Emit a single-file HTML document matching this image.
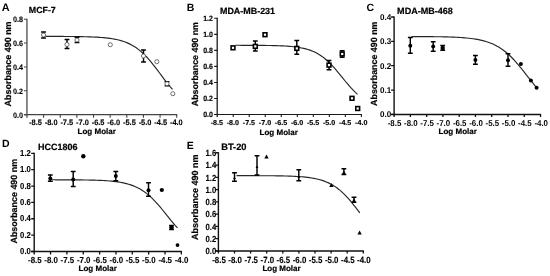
<!DOCTYPE html>
<html lang="en"><head><meta charset="utf-8"><title>Dose response curves</title>
<style>
html,body{margin:0;padding:0;background:#fff;}
body{width:550px;height:276px;overflow:hidden;font-family:"Liberation Sans",Arial,sans-serif;}
svg text{fill:#000;stroke:#000;}
svg text:not(.t){stroke-width:0.2px;}
svg text.L{stroke-width:0;}
</style></head><body>
<svg width="550" height="276" viewBox="0 0 550 276" style="display:block" text-rendering="geometricPrecision">
<rect width="550" height="276" fill="#fff"/>
<g id="panelA">
<path d="M26.95,18.65 V117.75" stroke="#444" stroke-width="1.25" fill="none"/>
<path d="M23.95,114.65 H177.26" stroke="#444" stroke-width="1.3" fill="none"/>
<path d="M23.95,114.65 H26.95 M23.95,90.79 H26.95 M23.95,66.93 H26.95 M23.95,43.06 H26.95 M23.95,19.20 H26.95 M43.59,114.65 V117.75 M60.23,114.65 V117.75 M76.87,114.65 V117.75 M93.51,114.65 V117.75 M110.15,114.65 V117.75 M126.79,114.65 V117.75 M143.43,114.65 V117.75 M160.07,114.65 V117.75 M176.71,114.65 V117.75 " stroke="#444" stroke-width="1.1" fill="none"/>
<text transform="translate(23.10,117.56) scale(1,1.09)" font-size="7.2" text-anchor="end" class="t" stroke-width="0.1" font-family="Liberation Sans, Arial, Helvetica, sans-serif" font-weight="bold">0.0</text>
<text transform="translate(23.10,93.70) scale(1,1.09)" font-size="7.2" text-anchor="end" class="t" stroke-width="0.1" font-family="Liberation Sans, Arial, Helvetica, sans-serif" font-weight="bold">0.2</text>
<text transform="translate(23.10,69.83) scale(1,1.09)" font-size="7.2" text-anchor="end" class="t" stroke-width="0.1" font-family="Liberation Sans, Arial, Helvetica, sans-serif" font-weight="bold">0.4</text>
<text transform="translate(23.10,45.97) scale(1,1.09)" font-size="7.2" text-anchor="end" class="t" stroke-width="0.1" font-family="Liberation Sans, Arial, Helvetica, sans-serif" font-weight="bold">0.6</text>
<text transform="translate(23.10,22.11) scale(1,1.09)" font-size="7.2" text-anchor="end" class="t" stroke-width="0.1" font-family="Liberation Sans, Arial, Helvetica, sans-serif" font-weight="bold">0.8</text>
<text transform="translate(35.50,125.20) scale(1,1.06)" font-size="7.45" text-anchor="middle" class="t" stroke-width="0.1" font-family="Liberation Sans, Arial, Helvetica, sans-serif" font-weight="bold">-8.5</text>
<text transform="translate(51.15,125.20) scale(1,1.06)" font-size="7.45" text-anchor="middle" class="t" stroke-width="0.1" font-family="Liberation Sans, Arial, Helvetica, sans-serif" font-weight="bold">-8.0</text>
<text transform="translate(66.80,125.20) scale(1,1.06)" font-size="7.45" text-anchor="middle" class="t" stroke-width="0.1" font-family="Liberation Sans, Arial, Helvetica, sans-serif" font-weight="bold">-7.5</text>
<text transform="translate(82.45,125.20) scale(1,1.06)" font-size="7.45" text-anchor="middle" class="t" stroke-width="0.1" font-family="Liberation Sans, Arial, Helvetica, sans-serif" font-weight="bold">-7.0</text>
<text transform="translate(98.10,125.20) scale(1,1.06)" font-size="7.45" text-anchor="middle" class="t" stroke-width="0.1" font-family="Liberation Sans, Arial, Helvetica, sans-serif" font-weight="bold">-6.5</text>
<text transform="translate(113.75,125.20) scale(1,1.06)" font-size="7.45" text-anchor="middle" class="t" stroke-width="0.1" font-family="Liberation Sans, Arial, Helvetica, sans-serif" font-weight="bold">-6.0</text>
<text transform="translate(129.40,125.20) scale(1,1.06)" font-size="7.45" text-anchor="middle" class="t" stroke-width="0.1" font-family="Liberation Sans, Arial, Helvetica, sans-serif" font-weight="bold">-5.5</text>
<text transform="translate(145.05,125.20) scale(1,1.06)" font-size="7.45" text-anchor="middle" class="t" stroke-width="0.1" font-family="Liberation Sans, Arial, Helvetica, sans-serif" font-weight="bold">-5.0</text>
<text transform="translate(160.70,125.20) scale(1,1.06)" font-size="7.45" text-anchor="middle" class="t" stroke-width="0.1" font-family="Liberation Sans, Arial, Helvetica, sans-serif" font-weight="bold">-4.5</text>
<text transform="translate(176.35,125.20) scale(1,1.06)" font-size="7.45" text-anchor="middle" class="t" stroke-width="0.1" font-family="Liberation Sans, Arial, Helvetica, sans-serif" font-weight="bold">-4.0</text>
<text x="77.60" y="133.80" font-size="8.0" font-family="Liberation Sans, Arial, Helvetica, sans-serif" font-weight="bold">Log Molar</text>
<text transform="translate(11.10,106.40) rotate(-90)" font-size="8.95" font-family="Liberation Sans, Arial, Helvetica, sans-serif" font-weight="bold">Absorbance 490 nm</text>
<text x="28.80" y="13.25" font-size="8.84" font-family="Liberation Sans, Arial, Helvetica, sans-serif" font-weight="bold">MCF-7</text>
<text x="1.80" y="11.10" font-size="10.9" class="L" font-family="Liberation Sans, Arial, Helvetica, sans-serif" font-weight="bold">A</text>
<path d="M45.50,36.39 L47.65,36.39 L49.81,36.40 L51.96,36.40 L54.11,36.41 L56.26,36.41 L58.42,36.42 L60.57,36.43 L62.72,36.44 L64.87,36.45 L67.03,36.47 L69.18,36.48 L71.33,36.50 L73.48,36.52 L75.64,36.55 L77.79,36.58 L79.94,36.61 L82.09,36.65 L84.25,36.70 L86.40,36.76 L88.55,36.82 L90.70,36.89 L92.86,36.98 L95.01,37.08 L97.16,37.19 L99.31,37.33 L101.47,37.49 L103.62,37.67 L105.77,37.88 L107.92,38.12 L110.08,38.41 L112.23,38.73 L114.38,39.11 L116.53,39.55 L118.69,40.05 L120.84,40.62 L122.99,41.28 L125.14,42.04 L127.30,42.90 L129.45,43.87 L131.60,44.97 L133.75,46.21 L135.91,47.60 L138.06,49.15 L140.21,50.86 L142.36,52.74 L144.52,54.79 L146.67,57.01 L148.82,59.39 L150.97,61.91 L153.13,64.56 L155.28,67.32 L157.43,70.15 L159.58,73.03 L161.74,75.92 L163.89,78.78 L166.04,81.59 L168.19,84.32 L170.35,86.94 L172.50,89.42" stroke="#262626" stroke-width="1.15" fill="none"/>
<path d="M43.50,32.00 V38.00" stroke="#000" stroke-width="1.45" fill="none"/>
<path d="M41.10,32.00 H45.90 M41.10,38.00 H45.90" stroke="#000" stroke-width="1.5" fill="none"/>
<circle cx="43.50" cy="35.00" r="2.05" fill="#fff" stroke="#555" stroke-width="0.85"/>
<path d="M67.00,39.50 V48.50" stroke="#000" stroke-width="1.45" fill="none"/>
<path d="M64.60,39.50 H69.40 M64.60,48.50 H69.40" stroke="#000" stroke-width="1.5" fill="none"/>
<circle cx="67.00" cy="44.50" r="2.05" fill="#fff" stroke="#555" stroke-width="0.85"/>
<path d="M77.00,37.30 V42.50" stroke="#000" stroke-width="1.45" fill="none"/>
<path d="M74.60,37.30 H79.40 M74.60,42.50 H79.40" stroke="#000" stroke-width="1.5" fill="none"/>
<circle cx="77.00" cy="40.00" r="2.05" fill="#fff" stroke="#555" stroke-width="0.85"/>
<circle cx="110.30" cy="44.70" r="2.05" fill="#fff" stroke="#555" stroke-width="0.85"/>
<path d="M143.50,50.00 V62.00" stroke="#000" stroke-width="1.45" fill="none"/>
<path d="M141.10,50.00 H145.90 M141.10,62.00 H145.90" stroke="#000" stroke-width="1.5" fill="none"/>
<circle cx="143.50" cy="56.00" r="2.05" fill="#fff" stroke="#555" stroke-width="0.85"/>
<circle cx="156.80" cy="61.70" r="2.05" fill="#fff" stroke="#555" stroke-width="0.85"/>
<path d="M167.00,81.70 V85.70" stroke="#000" stroke-width="1.45" fill="none"/>
<path d="M164.60,81.70 H169.40 M164.60,85.70 H169.40" stroke="#000" stroke-width="1.5" fill="none"/>
<circle cx="167.00" cy="83.70" r="2.05" fill="#fff" stroke="#555" stroke-width="0.85"/>
<circle cx="172.80" cy="93.70" r="2.05" fill="#fff" stroke="#555" stroke-width="0.85"/>
</g>
<g id="panelB">
<path d="M217.20,17.75 V117.00" stroke="#1a1a1a" stroke-width="1.3" fill="none"/>
<path d="M214.20,114.50 H361.93" stroke="#1a1a1a" stroke-width="1.1" fill="none"/>
<path d="M214.20,114.50 H217.20 M214.20,98.47 H217.20 M214.20,82.43 H217.20 M214.20,66.40 H217.20 M214.20,50.37 H217.20 M214.20,34.33 H217.20 M214.20,18.30 H217.20 M233.22,114.50 V117.00 M249.24,114.50 V117.00 M265.26,114.50 V117.00 M281.28,114.50 V117.00 M297.30,114.50 V117.00 M313.32,114.50 V117.00 M329.34,114.50 V117.00 M345.36,114.50 V117.00 M361.38,114.50 V117.00 " stroke="#1a1a1a" stroke-width="1.1" fill="none"/>
<text transform="translate(212.90,116.93) scale(1,1.09)" font-size="7.0" text-anchor="end" class="t" stroke-width="0.15" font-family="Liberation Sans, Arial, Helvetica, sans-serif" font-weight="bold">0.0</text>
<text transform="translate(212.90,100.90) scale(1,1.09)" font-size="7.0" text-anchor="end" class="t" stroke-width="0.15" font-family="Liberation Sans, Arial, Helvetica, sans-serif" font-weight="bold">0.2</text>
<text transform="translate(212.90,84.86) scale(1,1.09)" font-size="7.0" text-anchor="end" class="t" stroke-width="0.15" font-family="Liberation Sans, Arial, Helvetica, sans-serif" font-weight="bold">0.4</text>
<text transform="translate(212.90,68.83) scale(1,1.09)" font-size="7.0" text-anchor="end" class="t" stroke-width="0.15" font-family="Liberation Sans, Arial, Helvetica, sans-serif" font-weight="bold">0.6</text>
<text transform="translate(212.90,52.80) scale(1,1.09)" font-size="7.0" text-anchor="end" class="t" stroke-width="0.15" font-family="Liberation Sans, Arial, Helvetica, sans-serif" font-weight="bold">0.8</text>
<text transform="translate(212.90,36.76) scale(1,1.09)" font-size="7.0" text-anchor="end" class="t" stroke-width="0.15" font-family="Liberation Sans, Arial, Helvetica, sans-serif" font-weight="bold">1.0</text>
<text transform="translate(212.90,20.73) scale(1,1.09)" font-size="7.0" text-anchor="end" class="t" stroke-width="0.15" font-family="Liberation Sans, Arial, Helvetica, sans-serif" font-weight="bold">1.2</text>
<text transform="translate(216.85,125.45) scale(1,1.0)" font-size="7.15" text-anchor="middle" class="t" stroke-width="0.15" font-family="Liberation Sans, Arial, Helvetica, sans-serif" font-weight="bold">-8.5</text>
<text transform="translate(232.89,125.45) scale(1,1.0)" font-size="7.15" text-anchor="middle" class="t" stroke-width="0.15" font-family="Liberation Sans, Arial, Helvetica, sans-serif" font-weight="bold">-8.0</text>
<text transform="translate(248.93,125.45) scale(1,1.0)" font-size="7.15" text-anchor="middle" class="t" stroke-width="0.15" font-family="Liberation Sans, Arial, Helvetica, sans-serif" font-weight="bold">-7.5</text>
<text transform="translate(264.97,125.45) scale(1,1.0)" font-size="7.15" text-anchor="middle" class="t" stroke-width="0.15" font-family="Liberation Sans, Arial, Helvetica, sans-serif" font-weight="bold">-7.0</text>
<text transform="translate(281.01,125.45) scale(1,1.0)" font-size="7.15" text-anchor="middle" class="t" stroke-width="0.15" font-family="Liberation Sans, Arial, Helvetica, sans-serif" font-weight="bold">-6.5</text>
<text transform="translate(297.05,125.45) scale(1,1.0)" font-size="7.15" text-anchor="middle" class="t" stroke-width="0.15" font-family="Liberation Sans, Arial, Helvetica, sans-serif" font-weight="bold">-6.0</text>
<text transform="translate(313.09,125.45) scale(1,1.0)" font-size="7.15" text-anchor="middle" class="t" stroke-width="0.15" font-family="Liberation Sans, Arial, Helvetica, sans-serif" font-weight="bold">-5.5</text>
<text transform="translate(329.13,125.45) scale(1,1.0)" font-size="7.15" text-anchor="middle" class="t" stroke-width="0.15" font-family="Liberation Sans, Arial, Helvetica, sans-serif" font-weight="bold">-5.0</text>
<text transform="translate(345.17,125.45) scale(1,1.0)" font-size="7.15" text-anchor="middle" class="t" stroke-width="0.15" font-family="Liberation Sans, Arial, Helvetica, sans-serif" font-weight="bold">-4.5</text>
<text transform="translate(361.21,125.45) scale(1,1.0)" font-size="7.15" text-anchor="middle" class="t" stroke-width="0.15" font-family="Liberation Sans, Arial, Helvetica, sans-serif" font-weight="bold">-4.0</text>
<text x="259.60" y="134.80" font-size="8.0" font-family="Liberation Sans, Arial, Helvetica, sans-serif" font-weight="bold">Log Molar</text>
<text transform="translate(198.20,106.20) rotate(-90)" font-size="8.87" font-family="Liberation Sans, Arial, Helvetica, sans-serif" font-weight="bold">Absorbance 490 nm</text>
<text x="219.95" y="13.75" font-size="8.95" font-family="Liberation Sans, Arial, Helvetica, sans-serif" font-weight="bold">MDA-MB-231</text>
<text x="186.65" y="10.70" font-size="10.5" class="L" font-family="Liberation Sans, Arial, Helvetica, sans-serif" font-weight="bold">B</text>
<path d="M235.50,45.29 L237.57,45.29 L239.64,45.30 L241.70,45.30 L243.77,45.31 L245.84,45.31 L247.91,45.32 L249.97,45.32 L252.04,45.33 L254.11,45.34 L256.18,45.36 L258.25,45.37 L260.31,45.39 L262.38,45.41 L264.45,45.43 L266.52,45.45 L268.58,45.49 L270.65,45.52 L272.72,45.57 L274.79,45.62 L276.86,45.68 L278.92,45.75 L280.99,45.83 L283.06,45.92 L285.13,46.03 L287.19,46.16 L289.26,46.32 L291.33,46.49 L293.40,46.70 L295.47,46.95 L297.53,47.23 L299.60,47.56 L301.67,47.94 L303.74,48.38 L305.81,48.89 L307.87,49.48 L309.94,50.15 L312.01,50.93 L314.08,51.81 L316.14,52.82 L318.21,53.96 L320.28,55.23 L322.35,56.66 L324.42,58.24 L326.48,59.98 L328.55,61.88 L330.62,63.92 L332.69,66.11 L334.75,68.43 L336.82,70.84 L338.89,73.34 L340.96,75.88 L343.03,78.45 L345.09,80.99 L347.16,83.49 L349.23,85.90 L351.30,88.22 L353.36,90.41 L355.43,92.45 L357.50,94.35" stroke="#262626" stroke-width="1.15" fill="none"/>
<rect x="231.10" y="45.90" width="3.8" height="3.8" fill="#fff" stroke="#000" stroke-width="1.6"/>
<path d="M255.30,41.00 V51.00" stroke="#000" stroke-width="1.45" fill="none"/>
<path d="M252.90,41.00 H257.70 M252.90,51.00 H257.70" stroke="#000" stroke-width="1.5" fill="none"/>
<rect x="253.40" y="44.50" width="3.8" height="3.8" fill="#fff" stroke="#000" stroke-width="1.6"/>
<rect x="263.10" y="32.80" width="3.8" height="3.8" fill="#fff" stroke="#000" stroke-width="1.6"/>
<path d="M296.80,40.50 V54.30" stroke="#000" stroke-width="1.45" fill="none"/>
<path d="M294.40,40.50 H299.20 M294.40,54.30 H299.20" stroke="#000" stroke-width="1.5" fill="none"/>
<rect x="294.90" y="46.50" width="3.8" height="3.8" fill="#fff" stroke="#000" stroke-width="1.6"/>
<path d="M329.00,60.50 V69.70" stroke="#000" stroke-width="1.45" fill="none"/>
<path d="M326.60,60.50 H331.40 M326.60,69.70 H331.40" stroke="#000" stroke-width="1.5" fill="none"/>
<rect x="327.10" y="63.20" width="3.8" height="3.8" fill="#fff" stroke="#000" stroke-width="1.6"/>
<path d="M342.20,50.80 V57.20" stroke="#000" stroke-width="1.45" fill="none"/>
<path d="M339.80,50.80 H344.60 M339.80,57.20 H344.60" stroke="#000" stroke-width="1.5" fill="none"/>
<rect x="340.30" y="52.10" width="3.8" height="3.8" fill="#fff" stroke="#000" stroke-width="1.6"/>
<rect x="350.10" y="96.40" width="3.8" height="3.8" fill="#fff" stroke="#000" stroke-width="1.6"/>
<rect x="355.80" y="106.60" width="3.8" height="3.8" fill="#fff" stroke="#000" stroke-width="1.6"/>
</g>
<g id="panelC">
<path d="M394.10,16.45 V116.90" stroke="#111" stroke-width="1.4" fill="none"/>
<path d="M391.10,114.40 H541.08" stroke="#111" stroke-width="1.5" fill="none"/>
<path d="M391.10,114.40 H394.10 M391.10,90.05 H394.10 M391.10,65.70 H394.10 M391.10,41.35 H394.10 M391.10,17.00 H394.10 M410.37,114.40 V116.90 M426.64,114.40 V116.90 M442.91,114.40 V116.90 M459.18,114.40 V116.90 M475.45,114.40 V116.90 M491.72,114.40 V116.90 M507.99,114.40 V116.90 M524.26,114.40 V116.90 M540.53,114.40 V116.90 " stroke="#111" stroke-width="1.3" fill="none"/>
<text transform="translate(391.30,117.49) scale(1,1.03)" font-size="8.1" text-anchor="end" class="t" stroke-width="0" font-family="Liberation Sans, Arial, Helvetica, sans-serif" font-weight="bold">0.0</text>
<text transform="translate(391.30,93.14) scale(1,1.03)" font-size="8.1" text-anchor="end" class="t" stroke-width="0" font-family="Liberation Sans, Arial, Helvetica, sans-serif" font-weight="bold">0.1</text>
<text transform="translate(391.30,68.79) scale(1,1.03)" font-size="8.1" text-anchor="end" class="t" stroke-width="0" font-family="Liberation Sans, Arial, Helvetica, sans-serif" font-weight="bold">0.2</text>
<text transform="translate(391.30,44.44) scale(1,1.03)" font-size="8.1" text-anchor="end" class="t" stroke-width="0" font-family="Liberation Sans, Arial, Helvetica, sans-serif" font-weight="bold">0.3</text>
<text transform="translate(391.30,20.09) scale(1,1.03)" font-size="8.1" text-anchor="end" class="t" stroke-width="0" font-family="Liberation Sans, Arial, Helvetica, sans-serif" font-weight="bold">0.4</text>
<text transform="translate(394.50,125.90) scale(1,1.08)" font-size="7.9" text-anchor="middle" class="t" stroke-width="0" font-family="Liberation Sans, Arial, Helvetica, sans-serif" font-weight="bold">-8.5</text>
<text transform="translate(410.80,125.90) scale(1,1.08)" font-size="7.9" text-anchor="middle" class="t" stroke-width="0" font-family="Liberation Sans, Arial, Helvetica, sans-serif" font-weight="bold">-8.0</text>
<text transform="translate(427.10,125.90) scale(1,1.08)" font-size="7.9" text-anchor="middle" class="t" stroke-width="0" font-family="Liberation Sans, Arial, Helvetica, sans-serif" font-weight="bold">-7.5</text>
<text transform="translate(443.40,125.90) scale(1,1.08)" font-size="7.9" text-anchor="middle" class="t" stroke-width="0" font-family="Liberation Sans, Arial, Helvetica, sans-serif" font-weight="bold">-7.0</text>
<text transform="translate(459.70,125.90) scale(1,1.08)" font-size="7.9" text-anchor="middle" class="t" stroke-width="0" font-family="Liberation Sans, Arial, Helvetica, sans-serif" font-weight="bold">-6.5</text>
<text transform="translate(476.00,125.90) scale(1,1.08)" font-size="7.9" text-anchor="middle" class="t" stroke-width="0" font-family="Liberation Sans, Arial, Helvetica, sans-serif" font-weight="bold">-6.0</text>
<text transform="translate(492.30,125.90) scale(1,1.08)" font-size="7.9" text-anchor="middle" class="t" stroke-width="0" font-family="Liberation Sans, Arial, Helvetica, sans-serif" font-weight="bold">-5.5</text>
<text transform="translate(508.60,125.90) scale(1,1.08)" font-size="7.9" text-anchor="middle" class="t" stroke-width="0" font-family="Liberation Sans, Arial, Helvetica, sans-serif" font-weight="bold">-5.0</text>
<text transform="translate(524.90,125.90) scale(1,1.08)" font-size="7.9" text-anchor="middle" class="t" stroke-width="0" font-family="Liberation Sans, Arial, Helvetica, sans-serif" font-weight="bold">-4.5</text>
<text transform="translate(541.20,125.90) scale(1,1.08)" font-size="7.9" text-anchor="middle" class="t" stroke-width="0" font-family="Liberation Sans, Arial, Helvetica, sans-serif" font-weight="bold">-4.0</text>
<text x="438.60" y="134.00" font-size="8.0" font-family="Liberation Sans, Arial, Helvetica, sans-serif" font-weight="bold">Log Molar</text>
<text transform="translate(376.80,105.90) rotate(-90)" font-size="8.88" font-family="Liberation Sans, Arial, Helvetica, sans-serif" font-weight="bold">Absorbance 490 nm</text>
<text x="397.10" y="13.75" font-size="9.05" font-family="Liberation Sans, Arial, Helvetica, sans-serif" font-weight="bold">MDA-MB-468</text>
<text x="366.50" y="10.70" font-size="10.5" class="L" font-family="Liberation Sans, Arial, Helvetica, sans-serif" font-weight="bold">C</text>
<path d="M411.50,36.55 L413.63,36.56 L415.75,36.56 L417.88,36.57 L420.01,36.58 L422.14,36.59 L424.26,36.60 L426.39,36.62 L428.52,36.63 L430.64,36.65 L432.77,36.67 L434.90,36.70 L437.03,36.73 L439.15,36.76 L441.28,36.79 L443.41,36.84 L445.53,36.88 L447.66,36.94 L449.79,37.00 L451.92,37.08 L454.04,37.16 L456.17,37.26 L458.30,37.37 L460.42,37.49 L462.55,37.64 L464.68,37.81 L466.81,37.99 L468.93,38.21 L471.06,38.46 L473.19,38.74 L475.31,39.07 L477.44,39.43 L479.57,39.85 L481.69,40.33 L483.82,40.87 L485.95,41.48 L488.08,42.17 L490.20,42.95 L492.33,43.82 L494.46,44.80 L496.58,45.89 L498.71,47.10 L500.84,48.44 L502.97,49.92 L505.09,51.55 L507.22,53.31 L509.35,55.23 L511.47,57.28 L513.60,59.48 L515.73,61.81 L517.86,64.25 L519.98,66.79 L522.11,69.42 L524.24,72.10 L526.36,74.82 L528.49,77.55 L530.62,80.26 L532.75,82.92 L534.87,85.52 L537.00,88.03" stroke="#262626" stroke-width="1.15" fill="none"/>
<path d="M410.30,37.50 V53.30" stroke="#000" stroke-width="1.45" fill="none"/>
<path d="M407.90,37.50 H412.70 M407.90,53.30 H412.70" stroke="#000" stroke-width="1.5" fill="none"/>
<circle cx="410.30" cy="45.70" r="2.0" fill="#000"/>
<path d="M433.20,41.70 V51.30" stroke="#000" stroke-width="1.45" fill="none"/>
<path d="M430.80,41.70 H435.60 M430.80,51.30 H435.60" stroke="#000" stroke-width="1.5" fill="none"/>
<circle cx="433.20" cy="46.50" r="2.0" fill="#000"/>
<path d="M442.70,45.50 V50.30" stroke="#000" stroke-width="1.45" fill="none"/>
<path d="M440.30,45.50 H445.10 M440.30,50.30 H445.10" stroke="#000" stroke-width="1.5" fill="none"/>
<circle cx="442.70" cy="48.00" r="2.2" fill="#000"/>
<path d="M475.40,55.50 V64.20" stroke="#000" stroke-width="1.45" fill="none"/>
<path d="M473.00,55.50 H477.80 M473.00,64.20 H477.80" stroke="#000" stroke-width="1.5" fill="none"/>
<circle cx="475.40" cy="60.00" r="2.0" fill="#000"/>
<path d="M508.00,53.70 V66.30" stroke="#000" stroke-width="1.45" fill="none"/>
<path d="M505.60,53.70 H510.40 M505.60,66.30 H510.40" stroke="#000" stroke-width="1.5" fill="none"/>
<circle cx="508.00" cy="60.20" r="2.0" fill="#000"/>
<circle cx="520.90" cy="64.00" r="2.0" fill="#000"/>
<circle cx="530.90" cy="80.40" r="2.0" fill="#000"/>
<circle cx="536.60" cy="87.80" r="2.0" fill="#000"/>
</g>
<g id="panelD">
<path d="M34.20,152.75 V254.60" stroke="#111" stroke-width="1.4" fill="none"/>
<path d="M31.20,251.50 H181.90" stroke="#111" stroke-width="1.4" fill="none"/>
<path d="M31.20,251.50 H34.20 M31.20,235.13 H34.20 M31.20,218.77 H34.20 M31.20,202.40 H34.20 M31.20,186.03 H34.20 M31.20,169.67 H34.20 M31.20,153.30 H34.20 M50.55,251.50 V254.60 M66.90,251.50 V254.60 M83.25,251.50 V254.60 M99.60,251.50 V254.60 M115.95,251.50 V254.60 M132.30,251.50 V254.60 M148.65,251.50 V254.60 M165.00,251.50 V254.60 M181.35,251.50 V254.60 " stroke="#111" stroke-width="1.3" fill="none"/>
<text transform="translate(30.80,254.21) scale(1,1.13)" font-size="7.7" text-anchor="end" class="t" stroke-width="0.1" font-family="Liberation Sans, Arial, Helvetica, sans-serif" font-weight="bold">0.0</text>
<text transform="translate(30.80,237.85) scale(1,1.13)" font-size="7.7" text-anchor="end" class="t" stroke-width="0.1" font-family="Liberation Sans, Arial, Helvetica, sans-serif" font-weight="bold">0.2</text>
<text transform="translate(30.80,221.48) scale(1,1.13)" font-size="7.7" text-anchor="end" class="t" stroke-width="0.1" font-family="Liberation Sans, Arial, Helvetica, sans-serif" font-weight="bold">0.4</text>
<text transform="translate(30.80,205.11) scale(1,1.13)" font-size="7.7" text-anchor="end" class="t" stroke-width="0.1" font-family="Liberation Sans, Arial, Helvetica, sans-serif" font-weight="bold">0.6</text>
<text transform="translate(30.80,188.75) scale(1,1.13)" font-size="7.7" text-anchor="end" class="t" stroke-width="0.1" font-family="Liberation Sans, Arial, Helvetica, sans-serif" font-weight="bold">0.8</text>
<text transform="translate(30.80,172.38) scale(1,1.13)" font-size="7.7" text-anchor="end" class="t" stroke-width="0.1" font-family="Liberation Sans, Arial, Helvetica, sans-serif" font-weight="bold">1.0</text>
<text transform="translate(30.80,156.01) scale(1,1.13)" font-size="7.7" text-anchor="end" class="t" stroke-width="0.1" font-family="Liberation Sans, Arial, Helvetica, sans-serif" font-weight="bold">1.2</text>
<text transform="translate(34.80,263.10) scale(1,1.11)" font-size="7.9" text-anchor="middle" class="t" stroke-width="0.1" font-family="Liberation Sans, Arial, Helvetica, sans-serif" font-weight="bold">-8.5</text>
<text transform="translate(51.10,263.10) scale(1,1.11)" font-size="7.9" text-anchor="middle" class="t" stroke-width="0.1" font-family="Liberation Sans, Arial, Helvetica, sans-serif" font-weight="bold">-8.0</text>
<text transform="translate(67.40,263.10) scale(1,1.11)" font-size="7.9" text-anchor="middle" class="t" stroke-width="0.1" font-family="Liberation Sans, Arial, Helvetica, sans-serif" font-weight="bold">-7.5</text>
<text transform="translate(83.70,263.10) scale(1,1.11)" font-size="7.9" text-anchor="middle" class="t" stroke-width="0.1" font-family="Liberation Sans, Arial, Helvetica, sans-serif" font-weight="bold">-7.0</text>
<text transform="translate(100.00,263.10) scale(1,1.11)" font-size="7.9" text-anchor="middle" class="t" stroke-width="0.1" font-family="Liberation Sans, Arial, Helvetica, sans-serif" font-weight="bold">-6.5</text>
<text transform="translate(116.30,263.10) scale(1,1.11)" font-size="7.9" text-anchor="middle" class="t" stroke-width="0.1" font-family="Liberation Sans, Arial, Helvetica, sans-serif" font-weight="bold">-6.0</text>
<text transform="translate(132.60,263.10) scale(1,1.11)" font-size="7.9" text-anchor="middle" class="t" stroke-width="0.1" font-family="Liberation Sans, Arial, Helvetica, sans-serif" font-weight="bold">-5.5</text>
<text transform="translate(148.90,263.10) scale(1,1.11)" font-size="7.9" text-anchor="middle" class="t" stroke-width="0.1" font-family="Liberation Sans, Arial, Helvetica, sans-serif" font-weight="bold">-5.0</text>
<text transform="translate(165.20,263.10) scale(1,1.11)" font-size="7.9" text-anchor="middle" class="t" stroke-width="0.1" font-family="Liberation Sans, Arial, Helvetica, sans-serif" font-weight="bold">-4.5</text>
<text transform="translate(181.50,263.10) scale(1,1.11)" font-size="7.9" text-anchor="middle" class="t" stroke-width="0.1" font-family="Liberation Sans, Arial, Helvetica, sans-serif" font-weight="bold">-4.0</text>
<text x="78.60" y="271.00" font-size="8.0" font-family="Liberation Sans, Arial, Helvetica, sans-serif" font-weight="bold">Log Molar</text>
<text transform="translate(16.90,243.55) rotate(-90)" font-size="8.92" font-family="Liberation Sans, Arial, Helvetica, sans-serif" font-weight="bold">Absorbance 490 nm</text>
<text x="38.00" y="149.90" font-size="9.0" font-family="Liberation Sans, Arial, Helvetica, sans-serif" font-weight="bold">HCC1806</text>
<text x="2.00" y="146.70" font-size="10.5" class="L" font-family="Liberation Sans, Arial, Helvetica, sans-serif" font-weight="bold">D</text>
<path d="M52.00,179.79 L54.13,179.79 L56.25,179.80 L58.38,179.80 L60.51,179.81 L62.64,179.81 L64.76,179.82 L66.89,179.83 L69.02,179.84 L71.14,179.85 L73.27,179.86 L75.40,179.88 L77.53,179.89 L79.65,179.91 L81.78,179.94 L83.91,179.96 L86.03,180.00 L88.16,180.03 L90.29,180.08 L92.42,180.13 L94.54,180.18 L96.67,180.25 L98.80,180.33 L100.92,180.42 L103.05,180.52 L105.18,180.65 L107.31,180.79 L109.43,180.95 L111.56,181.14 L113.69,181.36 L115.81,181.61 L117.94,181.91 L120.07,182.24 L122.19,182.63 L124.32,183.08 L126.45,183.59 L128.58,184.18 L130.70,184.84 L132.83,185.61 L134.96,186.47 L137.08,187.45 L139.21,188.54 L141.34,189.78 L143.47,191.15 L145.59,192.67 L147.72,194.34 L149.85,196.17 L151.97,198.15 L154.10,200.28 L156.23,202.54 L158.36,204.93 L160.48,207.43 L162.61,210.00 L164.74,212.63 L166.86,215.29 L168.99,217.94 L171.12,220.55 L173.25,223.10 L175.37,225.56 L177.50,227.92" stroke="#262626" stroke-width="1.15" fill="none"/>
<circle cx="83.30" cy="156.30" r="2.2" fill="#000"/>
<path d="M50.30,175.00 V181.30" stroke="#000" stroke-width="1.45" fill="none"/>
<path d="M47.90,175.00 H52.70 M47.90,181.30 H52.70" stroke="#000" stroke-width="1.5" fill="none"/>
<circle cx="50.30" cy="178.40" r="2.0" fill="#000"/>
<path d="M73.20,171.50 V186.60" stroke="#000" stroke-width="1.45" fill="none"/>
<path d="M70.80,171.50 H75.60 M70.80,186.60 H75.60" stroke="#000" stroke-width="1.5" fill="none"/>
<circle cx="73.20" cy="179.50" r="2.0" fill="#000"/>
<path d="M115.80,171.40 V180.80" stroke="#000" stroke-width="1.45" fill="none"/>
<path d="M113.40,171.40 H118.20 M113.40,180.80 H118.20" stroke="#000" stroke-width="1.5" fill="none"/>
<circle cx="115.80" cy="176.10" r="2.0" fill="#000"/>
<path d="M148.50,182.80 V196.20" stroke="#000" stroke-width="1.45" fill="none"/>
<path d="M146.10,182.80 H150.90 M146.10,196.20 H150.90" stroke="#000" stroke-width="1.5" fill="none"/>
<circle cx="148.50" cy="190.20" r="2.0" fill="#000"/>
<circle cx="161.80" cy="190.00" r="2.1" fill="#000"/>
<path d="M171.50,225.60 V229.50" stroke="#000" stroke-width="1.45" fill="none"/>
<path d="M169.10,225.60 H173.90 M169.10,229.50 H173.90" stroke="#000" stroke-width="1.5" fill="none"/>
<circle cx="171.50" cy="227.50" r="2.3" fill="#000"/>
<circle cx="177.50" cy="245.10" r="1.9" fill="#000"/>
</g>
<g id="panelE">
<path d="M218.40,152.20 V253.45" stroke="#111" stroke-width="1.4" fill="none"/>
<path d="M215.40,250.95 H363.85" stroke="#111" stroke-width="1.4" fill="none"/>
<path d="M215.40,250.95 H218.40 M215.40,238.67 H218.40 M215.40,226.40 H218.40 M215.40,214.12 H218.40 M215.40,201.85 H218.40 M215.40,189.57 H218.40 M215.40,177.30 H218.40 M215.40,165.03 H218.40 M215.40,152.75 H218.40 M234.50,250.95 V253.45 M250.60,250.95 V253.45 M266.70,250.95 V253.45 M282.80,250.95 V253.45 M298.90,250.95 V253.45 M315.00,250.95 V253.45 M331.10,250.95 V253.45 M347.20,250.95 V253.45 M363.30,250.95 V253.45 " stroke="#111" stroke-width="1.3" fill="none"/>
<text transform="translate(216.20,254.22) scale(1,1.15)" font-size="7.7" text-anchor="end" class="t" stroke-width="0.1" font-family="Liberation Sans, Arial, Helvetica, sans-serif" font-weight="bold">0.0</text>
<text transform="translate(216.20,241.95) scale(1,1.15)" font-size="7.7" text-anchor="end" class="t" stroke-width="0.1" font-family="Liberation Sans, Arial, Helvetica, sans-serif" font-weight="bold">0.2</text>
<text transform="translate(216.20,229.67) scale(1,1.15)" font-size="7.7" text-anchor="end" class="t" stroke-width="0.1" font-family="Liberation Sans, Arial, Helvetica, sans-serif" font-weight="bold">0.4</text>
<text transform="translate(216.20,217.40) scale(1,1.15)" font-size="7.7" text-anchor="end" class="t" stroke-width="0.1" font-family="Liberation Sans, Arial, Helvetica, sans-serif" font-weight="bold">0.6</text>
<text transform="translate(216.20,205.12) scale(1,1.15)" font-size="7.7" text-anchor="end" class="t" stroke-width="0.1" font-family="Liberation Sans, Arial, Helvetica, sans-serif" font-weight="bold">0.8</text>
<text transform="translate(216.20,192.85) scale(1,1.15)" font-size="7.7" text-anchor="end" class="t" stroke-width="0.1" font-family="Liberation Sans, Arial, Helvetica, sans-serif" font-weight="bold">1.0</text>
<text transform="translate(216.20,180.57) scale(1,1.15)" font-size="7.7" text-anchor="end" class="t" stroke-width="0.1" font-family="Liberation Sans, Arial, Helvetica, sans-serif" font-weight="bold">1.2</text>
<text transform="translate(216.20,168.30) scale(1,1.15)" font-size="7.7" text-anchor="end" class="t" stroke-width="0.1" font-family="Liberation Sans, Arial, Helvetica, sans-serif" font-weight="bold">1.4</text>
<text transform="translate(216.20,156.02) scale(1,1.15)" font-size="7.7" text-anchor="end" class="t" stroke-width="0.1" font-family="Liberation Sans, Arial, Helvetica, sans-serif" font-weight="bold">1.6</text>
<text transform="translate(219.00,263.10) scale(1,1.13)" font-size="7.9" text-anchor="middle" class="t" stroke-width="0.1" font-family="Liberation Sans, Arial, Helvetica, sans-serif" font-weight="bold">-8.5</text>
<text transform="translate(235.10,263.10) scale(1,1.13)" font-size="7.9" text-anchor="middle" class="t" stroke-width="0.1" font-family="Liberation Sans, Arial, Helvetica, sans-serif" font-weight="bold">-8.0</text>
<text transform="translate(251.20,263.10) scale(1,1.13)" font-size="7.9" text-anchor="middle" class="t" stroke-width="0.1" font-family="Liberation Sans, Arial, Helvetica, sans-serif" font-weight="bold">-7.5</text>
<text transform="translate(267.30,263.10) scale(1,1.13)" font-size="7.9" text-anchor="middle" class="t" stroke-width="0.1" font-family="Liberation Sans, Arial, Helvetica, sans-serif" font-weight="bold">-7.0</text>
<text transform="translate(283.40,263.10) scale(1,1.13)" font-size="7.9" text-anchor="middle" class="t" stroke-width="0.1" font-family="Liberation Sans, Arial, Helvetica, sans-serif" font-weight="bold">-6.5</text>
<text transform="translate(299.50,263.10) scale(1,1.13)" font-size="7.9" text-anchor="middle" class="t" stroke-width="0.1" font-family="Liberation Sans, Arial, Helvetica, sans-serif" font-weight="bold">-6.0</text>
<text transform="translate(315.60,263.10) scale(1,1.13)" font-size="7.9" text-anchor="middle" class="t" stroke-width="0.1" font-family="Liberation Sans, Arial, Helvetica, sans-serif" font-weight="bold">-5.5</text>
<text transform="translate(331.70,263.10) scale(1,1.13)" font-size="7.9" text-anchor="middle" class="t" stroke-width="0.1" font-family="Liberation Sans, Arial, Helvetica, sans-serif" font-weight="bold">-5.0</text>
<text transform="translate(347.80,263.10) scale(1,1.13)" font-size="7.9" text-anchor="middle" class="t" stroke-width="0.1" font-family="Liberation Sans, Arial, Helvetica, sans-serif" font-weight="bold">-4.5</text>
<text transform="translate(363.90,263.10) scale(1,1.13)" font-size="7.9" text-anchor="middle" class="t" stroke-width="0.1" font-family="Liberation Sans, Arial, Helvetica, sans-serif" font-weight="bold">-4.0</text>
<text x="262.40" y="271.40" font-size="8.0" font-family="Liberation Sans, Arial, Helvetica, sans-serif" font-weight="bold">Log Molar</text>
<text transform="translate(198.30,240.00) rotate(-90)" font-size="9.0" font-family="Liberation Sans, Arial, Helvetica, sans-serif" font-weight="bold">Absorbance 490 nm</text>
<text x="221.20" y="149.80" font-size="9.3" font-family="Liberation Sans, Arial, Helvetica, sans-serif" font-weight="bold">BT-20</text>
<text x="186.80" y="149.00" font-size="10.5" class="L" font-family="Liberation Sans, Arial, Helvetica, sans-serif" font-weight="bold">E</text>
<path d="M236.50,175.65 L238.59,175.65 L240.68,175.66 L242.77,175.66 L244.86,175.66 L246.95,175.67 L249.04,175.67 L251.13,175.67 L253.22,175.68 L255.31,175.68 L257.40,175.69 L259.49,175.70 L261.58,175.71 L263.67,175.72 L265.76,175.73 L267.85,175.74 L269.94,175.76 L272.03,175.78 L274.12,175.80 L276.21,175.83 L278.30,175.86 L280.39,175.89 L282.48,175.93 L284.57,175.98 L286.66,176.04 L288.75,176.10 L290.84,176.17 L292.93,176.26 L295.02,176.36 L297.11,176.47 L299.19,176.61 L301.28,176.76 L303.37,176.94 L305.46,177.15 L307.55,177.38 L309.64,177.66 L311.73,177.98 L313.82,178.34 L315.91,178.76 L318.00,179.24 L320.09,179.79 L322.18,180.42 L324.27,181.14 L326.36,181.95 L328.45,182.87 L330.54,183.91 L332.63,185.08 L334.72,186.38 L336.81,187.83 L338.90,189.43 L340.99,191.18 L343.08,193.10 L345.17,195.17 L347.26,197.38 L349.35,199.73 L351.44,202.21 L353.53,204.78 L355.62,207.43 L357.71,210.13 L359.80,212.85" stroke="#262626" stroke-width="1.15" fill="none"/>
<path d="M234.50,172.70 V181.30" stroke="#000" stroke-width="1.45" fill="none"/>
<path d="M232.10,172.70 H236.90 M232.10,181.30 H236.90" stroke="#000" stroke-width="1.5" fill="none"/>
<path d="M234.50,176.40 L235.93,179.00 H233.07 Z" fill="#000"/>
<path d="M257.00,155.80 V175.00" stroke="#000" stroke-width="1.45" fill="none"/>
<path d="M254.60,155.80 H259.40 M254.60,175.00 H259.40" stroke="#000" stroke-width="1.5" fill="none"/>
<path d="M257.00,165.40 L258.43,168.00 H255.57 Z" fill="#000"/>
<path d="M266.50,154.60 L268.70,158.60 H264.30 Z" fill="#000"/>
<path d="M298.80,169.80 V180.80" stroke="#000" stroke-width="1.45" fill="none"/>
<path d="M296.40,169.80 H301.20 M296.40,180.80 H301.20" stroke="#000" stroke-width="1.5" fill="none"/>
<path d="M298.80,175.20 L300.23,177.80 H297.37 Z" fill="#000"/>
<path d="M331.40,183.10 L333.60,187.10 H329.20 Z" fill="#000"/>
<path d="M343.90,168.70 V174.50" stroke="#000" stroke-width="1.45" fill="none"/>
<path d="M341.50,168.70 H346.30 M341.50,174.50 H346.30" stroke="#000" stroke-width="1.5" fill="none"/>
<path d="M343.90,170.60 L345.99,174.40 H341.81 Z" fill="#000"/>
<path d="M354.00,197.30 V202.20" stroke="#000" stroke-width="1.45" fill="none"/>
<path d="M351.60,197.30 H356.40 M351.60,202.20 H356.40" stroke="#000" stroke-width="1.5" fill="none"/>
<path d="M354.00,198.30 L355.87,201.70 H352.13 Z" fill="#000"/>
<path d="M359.60,230.50 L361.80,234.50 H357.40 Z" fill="#000"/>
</g>
</svg>
</body></html>
